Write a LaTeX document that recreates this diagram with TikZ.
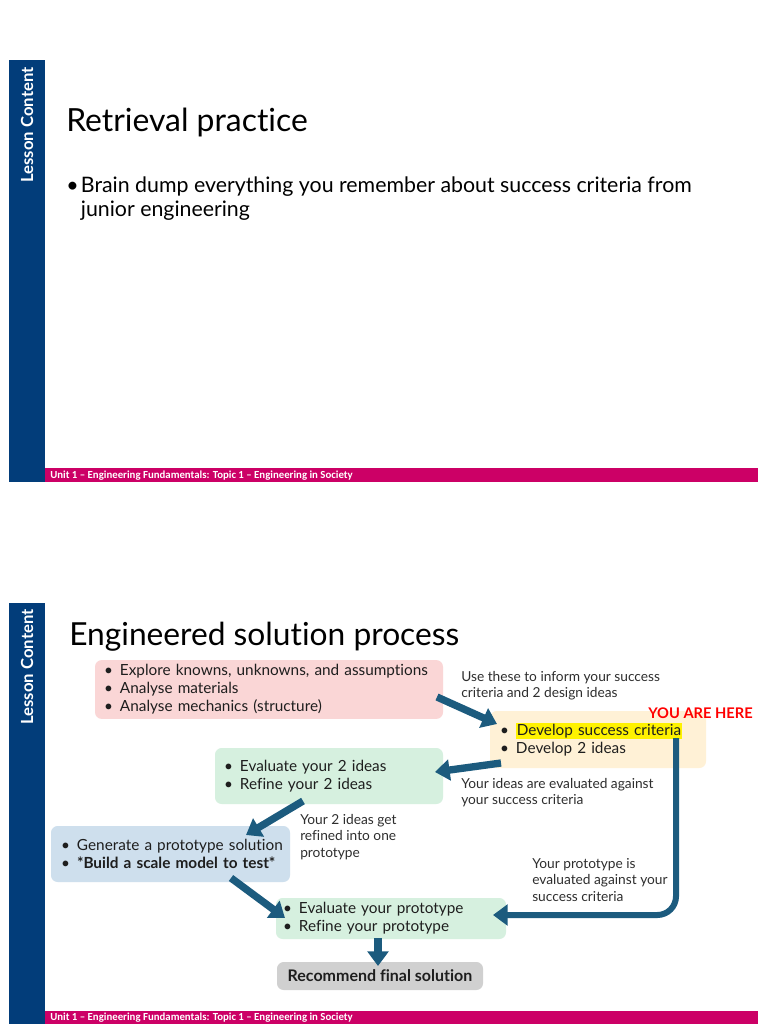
\documentclass[tikz,border=0pt]{standalone}
\usepackage{fontspec}
\setmainfont{Lato}[Ligatures={NoCommon}]
\newfontfamily\footf{Carlito}
\usetikzlibrary{arrows.meta}
\definecolor{barblue}{HTML}{023D7A}
\definecolor{barpink}{HTML}{CC0066}
\definecolor{boxpink}{HTML}{FAD6D6}
\definecolor{boxyellow}{HTML}{FFF1D6}
\definecolor{boxgreen}{HTML}{D6F0DF}
\definecolor{boxblue}{HTML}{CEDFED}
\definecolor{boxgray}{HTML}{D0D0D0}
\definecolor{arrblue}{HTML}{1C5B7E}
\definecolor{txt}{HTML}{1E1E1E}
\definecolor{ann}{HTML}{2E2E2E}
\newcommand{\bl}[1]{\mbox{\makebox[12pt][l]{\textbullet}#1}}
\hbadness=10000 \hfuzz=100pt
\begin{document}
\begin{tikzpicture}[x=0.75pt,y=-0.75pt,
  bar/.style={fill=barblue,draw=none},
  foot/.style={fill=barpink,draw=none},
  sidelabel/.style={text=white,font=\bfseries\fontsize{12.5}{14}\selectfont,rotate=90,inner sep=0},
  foottext/.style={text=white,font=\footf\bfseries\fontsize{8.1}{9}\selectfont,anchor=west,inner sep=0},
  title/.style={text=black,anchor=base west,inner sep=0},
  procbox/.style={rounded corners=5pt,draw=none,text=txt,align=left,font=\fontsize{11.5}{13.5}\selectfont},
  annot/.style={text=ann,align=left,anchor=north west,inner sep=0,font=\fontsize{10.3}{12.4}\selectfont},
  arr/.style={draw=arrblue,line width=5.5pt,-{Triangle[width=15.5pt,length=11pt]}},
]
\useasboundingbox (0,0) rectangle (768,1024);
\fill[white] (0,0) rectangle (768,1024);

% ---------- slide 1 ----------
\fill[bar] (9,60) rectangle (45,482);
\fill[foot] (45,468) rectangle (758,482);
\node[sidelabel] (lc1) at (27,125) {Lesson Content};
\node[foottext] (ft1) at (50,475.5) {Unit 1 – Engineering Fundamentals: Topic 1 – Engineering in Society};
\node[title,font=\fontsize{23.9}{28}\selectfont] (t1) at (66,132) {Retrieval practice};
\node[title,font=\fontsize{16}{18}\selectfont,align=left,anchor=north west] (b1) at (66,177)
  {\makebox[11pt][l]{\textbullet}Brain dump everything you remember about success criteria from\\\hspace*{11pt}junior engineering};

% ---------- slide 2 ----------
\fill[bar] (9,603) rectangle (45,1024);
\fill[foot] (45,1011) rectangle (758,1024);
\node[sidelabel] (lc2) at (27,667) {Lesson Content};
\node[foottext] (ft2) at (50,1018) {Unit 1 – Engineering Fundamentals: Topic 1 – Engineering in Society};
\node[title,font=\fontsize{23.8}{28}\selectfont] (t2) at (69,645) {Engineered solution process};

% boxes
\node[procbox,fill=boxpink,minimum width=261pt,minimum height=42.75pt,text width=247.5pt,inner xsep=6.75pt] (pink) at (269,689.5)
  {\bl{Explore knowns, unknowns, and assumptions}\\\bl{Analyse materials}\\\bl{Analyse mechanics (structure)}};
\node[procbox,fill=boxyellow,minimum width=162pt,minimum height=42.75pt,text width=147pt,inner xsep=7.5pt] (yel) at (598,739.5)
  {\bl{{\setlength\fboxsep{0.6pt}\colorbox{yellow}{Develop success criteria}}}\\\bl{Develop 2 ideas}};
\node[procbox,fill=boxgreen,minimum width=171pt,minimum height=42pt,text width=157.5pt,inner xsep=6.75pt] (gr1) at (329,776)
  {\bl{Evaluate your 2 ideas}\\\bl{Refine your 2 ideas}};
\node[procbox,fill=boxblue,minimum width=179.25pt,minimum height=42pt,text width=164.25pt,inner xsep=7.5pt] (blu) at (170.5,854)
  {\bl{Generate a prototype solution}\\\bl{\bfseries *Build a scale model to test*}};
\node[procbox,fill=boxgreen,minimum width=172.5pt,minimum height=30.75pt,text width=162pt,inner xsep=5.25pt] (gr2) at (391,918.5)
  {\bl{Evaluate your prototype}\\\bl{Refine your prototype}};
\node[procbox,fill=boxgray,minimum width=154.5pt,minimum height=21pt,align=center,font=\bfseries\fontsize{12}{14}\selectfont] (gry) at (380,976)
  {Recommend final solution};

% labels
\node[text=red,font=\bfseries\fontsize{11}{13}\selectfont,inner sep=0] (here) at (700.5,713) {YOU ARE HERE};
\node[annot] (n1) at (461,671) {Use these to inform your success\\criteria and 2 design ideas};
\node[annot] (n2) at (461,778) {Your ideas are evaluated against\\your success criteria};
\node[annot] (n3) at (300,814) {Your 2 ideas get\\refined into one\\prototype};
\node[annot] (n4) at (532,858) {Your prototype is\\evaluated against your\\success criteria};

% connector end points
\coordinate (a1s) at (437,697);  \coordinate (a1e) at (497,724);
\coordinate (a2s) at (501,763);  \coordinate (a2e) at (435,772);
\coordinate (a3s) at (303,801);  \coordinate (a3e) at (246,835);
\coordinate (a4s) at (231,878);  \coordinate (a4e) at (285,918);
\coordinate (a5s) at (676,738);  \coordinate (a5e) at (493,915);
\coordinate (a6s) at (378,938);  \coordinate (a6e) at (378,966);

\draw[arr] (a1s) -- (a1e);
\draw[arr] (a2s) -- (a2e);
\draw[arr] (a3s) -- (a3e);
\draw[arr] (a4s) -- (a4e);
\draw[arr,line width=4.5pt,rounded corners=14pt] (a5s) |- (a5e);
\draw[arr] (a6s) -- (a6e);
\end{tikzpicture}
\end{document}
